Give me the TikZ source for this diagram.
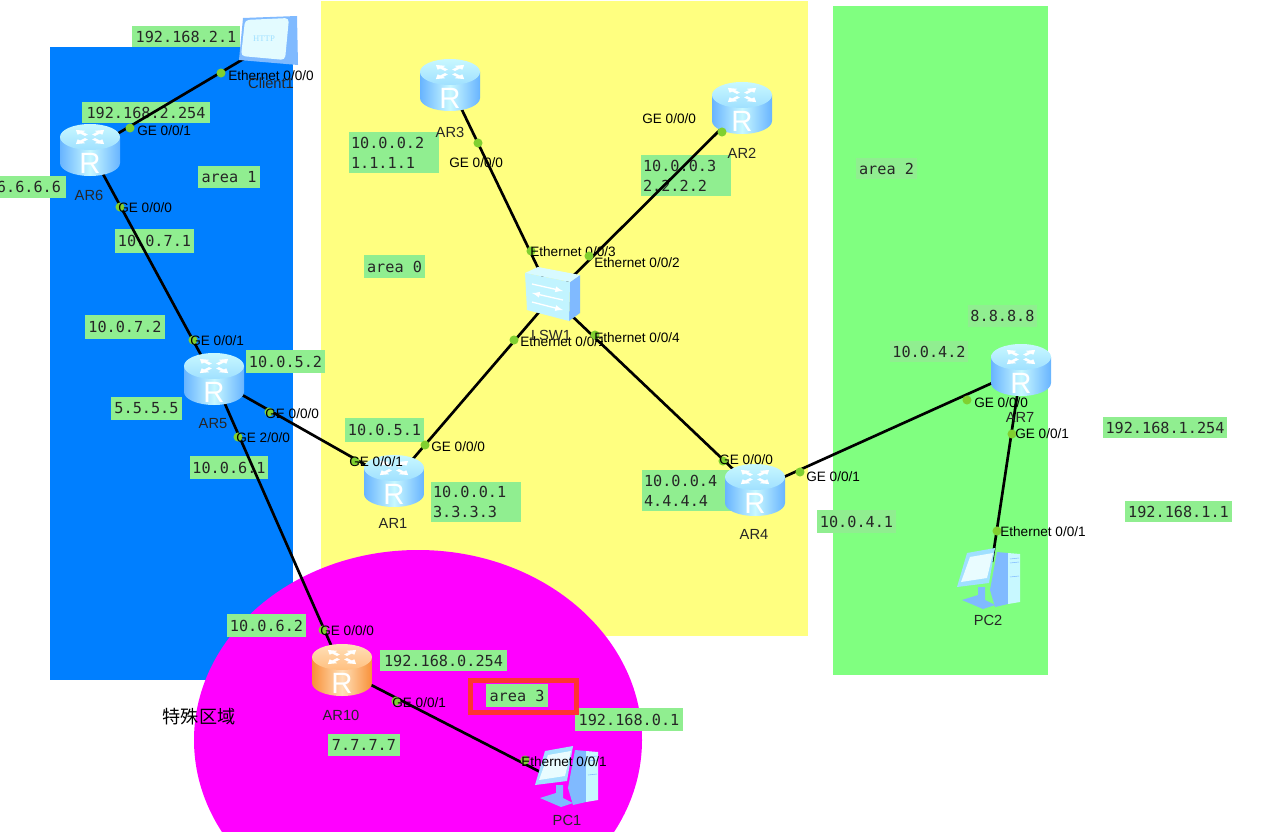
\documentclass[tikz,border=0pt]{standalone}
\usepackage{fontspec}
\setmainfont{Liberation Sans}
\setmonofont{DejaVu Sans Mono}
\newfontfamily\cjkf{Noto Sans CJK SC}
\newfontfamily\httpf{Liberation Serif}
\definecolor{areablue}{HTML}{007FFF}
\definecolor{areayellow}{HTML}{FFFF80}
\definecolor{areagreen}{HTML}{80FF80}
\definecolor{areamagenta}{HTML}{FF00FF}
\definecolor{labgreen}{HTML}{90EE90}
\definecolor{dotgreen}{HTML}{80D030}
\definecolor{redframe}{HTML}{FF3333}
\definecolor{devlight}{HTML}{C8F8FF}
\definecolor{devmid}{HTML}{A0E0FF}
\definecolor{devdark}{HTML}{68B4FF}
\definecolor{devside}{HTML}{80BAFF}
\definecolor{orlight}{HTML}{FFE0B8}
\definecolor{ormid}{HTML}{FFC080}
\definecolor{ordark}{HTML}{F89038}
\tikzset{
  iplabel/.style={fill=labgreen,inner sep=0pt,text=black!85,align=center,
    font=\ttfamily\fontsize{11.4}{15}\selectfont},
  devname/.style={inner sep=0pt,text=black!85,font=\fontsize{11}{13}\selectfont},
  ifname/.style={inner sep=0pt,anchor=west,text=black,font=\fontsize{10.2}{12}\selectfont},
  linkline/.style={black,line width=2pt},
  portdot/.style={circle,fill=dotgreen,inner sep=0pt,minimum size=6.8pt},
  anchorpt/.style={inner sep=0pt,minimum size=1pt},
}
\newcommand{\iplab}[6]{\node[iplabel,minimum width=#4 pt*.75-#2 pt*.75,minimum height=#5 pt*.75-#3 pt*.75] (#1) at ({(#2+#4)/2},{(#3+#5)/2}) {#6};}
% two-line box, text flush left
\newcommand{\iplabb}[6]{\node[iplabel,align=left,minimum height=#5 pt*.75-#3 pt*.75,text width=#4 pt*.75-#2 pt*.75-3pt,inner xsep=1.5pt] (#1) at ({(#2+#4)/2},{(#3+#5)/2}) {#6};}
\newcommand{\port}[6]{\node[portdot] (#1) at (#2,#3) {}; \node[ifname] (#1t) at (#4,#5) {#6};}
\newcommand{\router}[4]{%
 \begin{scope}[shift={(#1)}]
  \shade[left color=#3,right color=#3,middle color=#2] (-30,-13) -- (-30,13) arc[x radius=30,y radius=13,start angle=180,end angle=0] -- (30,-13) -- cycle;
  \shade[top color=#2,bottom color=#4] (0,-13) ellipse[x radius=30,y radius=13];
  \begin{scope}[shift={(0,-13)},yscale=.5]
   \foreach \a in {0,90,180,270}{
    \begin{scope}[rotate=\a+45]
     \fill[white] (5,-2) -- (12,-2) -- (12,-5.5) -- (20,0) -- (12,5.5) -- (12,2) -- (5,2) -- cycle;
    \end{scope}
   }
  \end{scope}
  \node[text=white,inner sep=0pt,font=\fontsize{22}{22}\selectfont] at (0,13) {R};
 \end{scope}}
\newcommand{\pcdev}[1]{%
 \begin{scope}[shift={(#1)}]
  \fill[devside] (8,-28) -- (19,-27) -- (19,24) -- (6,27) -- (1,10) -- cycle;
  \fill[devlight] (19,-27) -- (31,-26) -- (31,22) -- (19,24) -- cycle;
  \draw[devside] (21,-21) -- (30,-22) (21,-17) -- (30,-18) (21,-3) -- (30,-4);
  \fill[devside] (-27,20) -- (-11,15) -- (-11,7) -- (-4,7) -- (-4,20) -- (6,25) -- (-6,29) -- cycle;
  \fill[devmid] (-22,-27) -- (6,-32) -- (0,3) -- (-32,7) -- cycle;
  \fill[devlight!40!white] (-19,-23) -- (4,-27) -- (-2,-2) -- (-28,2) -- cycle;
 \end{scope}}
\begin{document}
\begin{tikzpicture}[x=.75pt,y=-.75pt]
\useasboundingbox (0,0) rectangle (1269,831);
\begin{scope}
\clip (0,0) rectangle (1269,831);
\fill[areablue] (50,47) rectangle (293,680);
\fill[areayellow] (321,1) rectangle (808,636);
\fill[areagreen] (833,6) rectangle (1048,675);
\fill[areamagenta] (418,740) ellipse[x radius=224,y radius=190];
\iplab{a1}{132}{26}{240}{47}{192.168.2.1}
\iplab{a2}{82}{102}{210}{123}{192.168.2.254}
\iplab{a3}{198}{166}{260}{188}{area 1}
\iplab{a4}{-8}{176}{66}{198}{6.6.6.6}
\iplab{a5}{115}{229}{194}{253}{10.0.7.1}
\iplab{a6}{85}{315}{165}{339}{10.0.7.2}
\iplab{a7}{246}{350}{325}{373}{10.0.5.2}
\iplab{a8}{111}{397}{182}{420}{5.5.5.5}
\iplab{a9}{190}{456}{268}{479}{10.0.6.1}
\iplab{a10}{345}{418}{424}{442}{10.0.5.1}
\iplabb{a11}{431}{482}{521}{522}{10.0.0.1\\3.3.3.3}
\iplabb{a12}{349}{132}{439}{173}{10.0.0.2\\1.1.1.1}
\iplabb{a13}{641}{155}{731}{196}{10.0.0.3\\2.2.2.2}
\iplab{a14}{364}{255}{425}{278}{area 0}
\iplabb{a15}{642}{470}{732}{511}{10.0.0.4\\4.4.4.4}
\iplab{a16}{817}{510}{896}{533}{10.0.4.1}
\iplab{a17}{968}{305}{1037}{327}{8.8.8.8}
\iplab{a18}{890}{341}{968}{362}{10.0.4.2}
\iplab{a19}{856}{158}{917}{179}{area 2}
\iplab{a20}{1103}{417}{1227}{438}{192.168.1.254}
\iplab{a21}{1125}{501}{1232}{522}{192.168.1.1}
\iplab{a22}{227}{614}{306}{637}{10.0.6.2}
\iplab{a23}{380}{650}{507}{671}{192.168.0.254}
\iplab{a24}{486}{684}{548}{707}{area 3}
\iplab{a25}{575}{708}{683}{731}{192.168.0.1}
\iplab{a26}{328}{734}{400}{756}{7.7.7.7}
\draw[draw=redframe,line width=3.75pt] (470.5,680.5) rectangle (576,712);
\node[anchorpt] (client) at (262,48) {};
\node[anchorpt] (ar6) at (90,150) {};
\node[anchorpt] (ar5) at (214,379) {};
\node[anchorpt] (ar1) at (394,481) {};
\node[anchorpt] (ar10) at (342,670) {};
\node[anchorpt] (lsw) at (552,297) {};
\node[anchorpt] (ar3) at (450,85) {};
\node[anchorpt] (ar2) at (742,108) {};
\node[anchorpt] (ar4) at (755,490) {};
\node[anchorpt] (ar7) at (1021,370) {};
\node[anchorpt] (pc2) at (992,562) {};
\node[anchorpt] (pc1) at (550,777) {};
\foreach \p/\q in {ar6/client,ar6/ar5,ar5/ar1,ar5/ar10,ar1/lsw,ar3/lsw,ar2/lsw,ar4/lsw,ar4/ar7,ar7/pc2,ar10/pc1}
  \draw[linkline] (\p.center) -- (\q.center);
\router{90,150}{devlight}{devdark}{devmid}
\router{214,379}{devlight}{devdark}{devmid}
\router{394,481}{devlight}{devdark}{devmid}
\router{450,85}{devlight}{devdark}{devmid}
\router{742,108}{devlight}{devdark}{devmid}
\router{755,490}{devlight}{devdark}{devmid}
\router{1021,370}{devlight}{devdark}{devmid}
\router{342,670}{orlight}{ordark}{ormid}
% client
\fill[devside] (243,18) -- (297,16) -- (298,65) -- (239,60) -- cycle;
\fill[devlight!50!white,rounded corners=3pt] (245,20) -- (289,18) -- (285,60) -- (241,56) -- cycle;
\node[inner sep=0pt,text=devmid,font=\httpf\fontsize{6.5}{7}\selectfont] (clienttxt) at (264,39) {HTTP};
% switch
\fill[devside] (570,282) -- (580,275) -- (580,313) -- (569,321) -- cycle;
\fill[devlight!70!white] (525,273) -- (538,267) -- (580,275) -- (570,282) -- cycle;
\fill[devlight!85!devmid] (525,273) -- (570,282) -- (569,321) -- (527,310) -- cycle;
\draw[white,line width=1pt,-latex] (532,284) -- (563,291);
\draw[white,line width=1pt,latex-] (532,293) -- (563,300);
\draw[white,line width=1pt,-latex] (532,302) -- (563,310);
\pcdev{567,778}
\pcdev{989,580}
\port{p1}{221}{73}{228}{76}{Ethernet 0/0/0}
\port{p2}{130}{128}{137}{131}{GE 0/0/1}
\port{p3}{120}{207}{118}{208}{GE 0/0/0}
\port{p4}{193}{340}{190}{341}{GE 0/0/1}
\port{p5}{269}{412}{265}{414}{GE 0/0/0}
\port{p6}{238}{437}{236}{438}{GE 2/0/0}
\port{p7}{355}{461}{349}{462}{GE 0/0/1}
\port{p8}{425}{445}{431}{447}{GE 0/0/0}
\port{p9}{514}{340}{520}{342}{Ethernet 0/0/1}
\port{p10}{531}{251}{530}{252}{Ethernet 0/0/3}
\port{p11}{589}{256}{594}{263}{Ethernet 0/0/2}
\port{p12}{595}{335}{594}{338}{Ethernet 0/0/4}
\port{p13}{478}{143}{449}{163}{GE 0/0/0}
\port{p14}{722}{132}{642}{119}{GE 0/0/0}
\port{p15}{723}{461}{719}{460}{GE 0/0/0}
\port{p16}{800}{472}{806}{477}{GE 0/0/1}
\port{p17}{967}{400}{974}{403}{GE 0/0/0}
\port{p18}{1012}{434}{1015}{434}{GE 0/0/1}
\port{p19}{997}{531}{1000}{532}{Ethernet 0/0/1}
\port{p20}{323}{630}{320}{631}{GE 0/0/0}
\port{p21}{396}{701}{392}{703}{GE 0/0/1}
\port{p22}{525}{760}{521}{762}{Ethernet 0/0/1}
\node[devname] (n1) at (271,83) {Client1};
\node[devname] (n2) at (89,195) {AR6};
\node[devname] (n3) at (213,424) {AR5};
\node[devname] (n4) at (393,523) {AR1};
\node[devname] (n5) at (450,132) {AR3};
\node[devname] (n6) at (742,153) {AR2};
\node[devname] (n7) at (754,534) {AR4};
\node[devname] (n8) at (1020,417) {AR7};
\node[devname] (n9) at (341,715) {AR10};
\node[devname] (n10) at (567,820) {PC1};
\node[devname] (n11) at (988,620) {PC2};
\node[devname] (n12) at (551,335) {LSW1};
\node[inner sep=0pt,text=black,font=\cjkf\fontsize{13.6}{15}\selectfont] (n13) at (199,717) {特殊区域};
\end{scope}
\end{tikzpicture}
\end{document}
